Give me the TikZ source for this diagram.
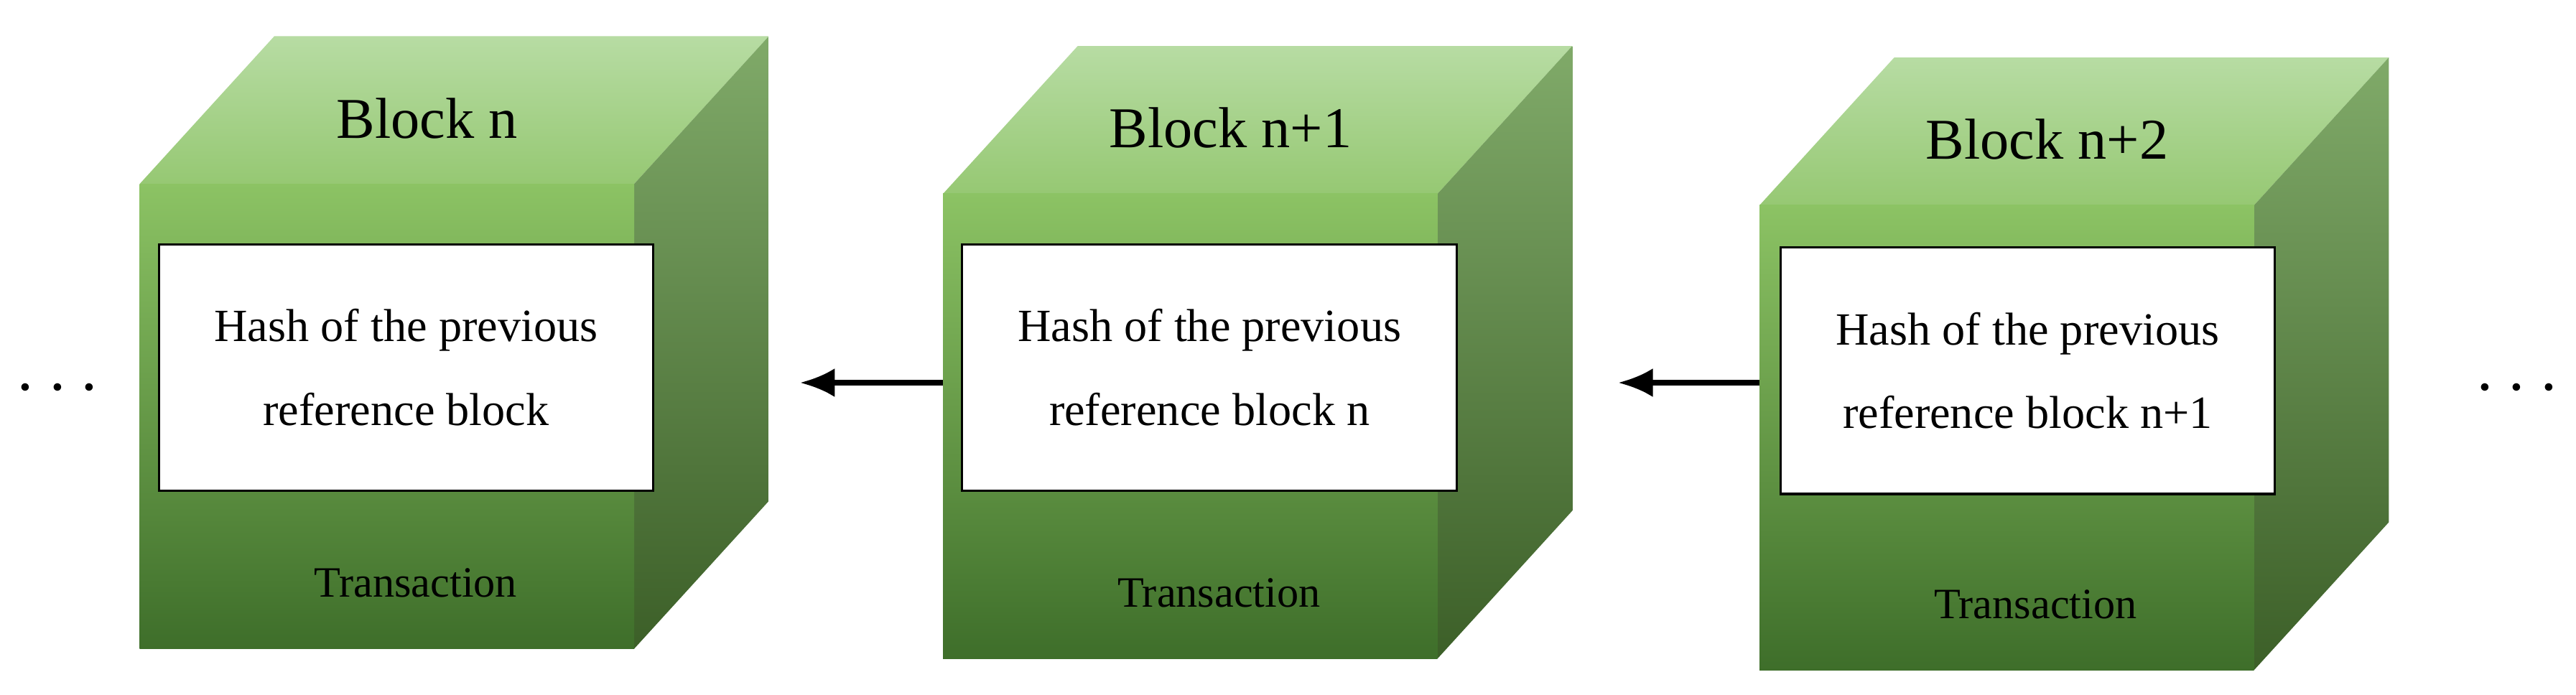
\documentclass[tikz,border=0pt]{standalone}
\usepackage{fontspec}
\setmainfont{Liberation Serif}
\usetikzlibrary{arrows.meta}
\begin{document}
\begin{tikzpicture}[x=0.02cm,y=-0.02cm,
  topf/.style={draw=none,top color={rgb,255:red,183;green,220;blue,163},bottom color={rgb,255:red,150;green,200;blue,115}},
  side/.style={draw=none,top color={rgb,255:red,128;green,170;blue,105},bottom color={rgb,255:red,60;green,95;blue,40}},
  front/.style={draw=none,top color={rgb,255:red,140;green,195;blue,100},bottom color={rgb,255:red,62;green,110;blue,42}},
  hashbox/.style={draw=black,thick,fill=white,minimum width=301*0.02cm,minimum height=150*0.02cm,align=center,font=\fontsize{16}{29}\selectfont},
  ttl/.style={font=\fontsize{20}{24}\selectfont},
  tr/.style={font=\fontsize{15}{17}\selectfont},
  link/.style={-{Latex[length=12pt,width=10pt]},line width=1.8pt},
  dots/.style={font=\fontsize{26}{28}\selectfont}]
\useasboundingbox (0,0) rectangle (1568,423);
\foreach \i/\fx/\fy/\bx/\by/\txt/\ref in {1/85/112/96/148/n/{},2/574/118/585/148/n+1/{ n},3/1071/125/1083/150/n+2/{ n+1}}{
  \shade[topf] (\fx,\fy) -- ++(82,-90) -- ++(301,0) -- ++(-82,90) -- cycle;
  \shade[side] (\fx+301,\fy) -- ++(82,-90) -- ++(0,283) -- ++(-82,90) -- cycle;
  \shade[front] (\fx,\fy) rectangle ++(301,283);
  \node[ttl] (t\i) at (\fx+175,\fy-40) {Block \txt};
  \node[hashbox,anchor=north west] (h\i) at (\bx,\by) {Hash of the previous\\reference block\ref};
  \node[tr] (x\i) at (\fx+168,\fy+243) {Transaction};
  \coordinate (fl\i) at (\fx,233);
}
\coordinate (e1) at (487,233);
\coordinate (e2) at (985,233);
\draw[link] (fl2) -- (e1);
\draw[link] (fl3) -- (e2);
\node[dots] (dl) at (35,237) {$\cdots$};
\node[dots] (dr) at (1532,237) {$\cdots$};
\end{tikzpicture}
\end{document}
